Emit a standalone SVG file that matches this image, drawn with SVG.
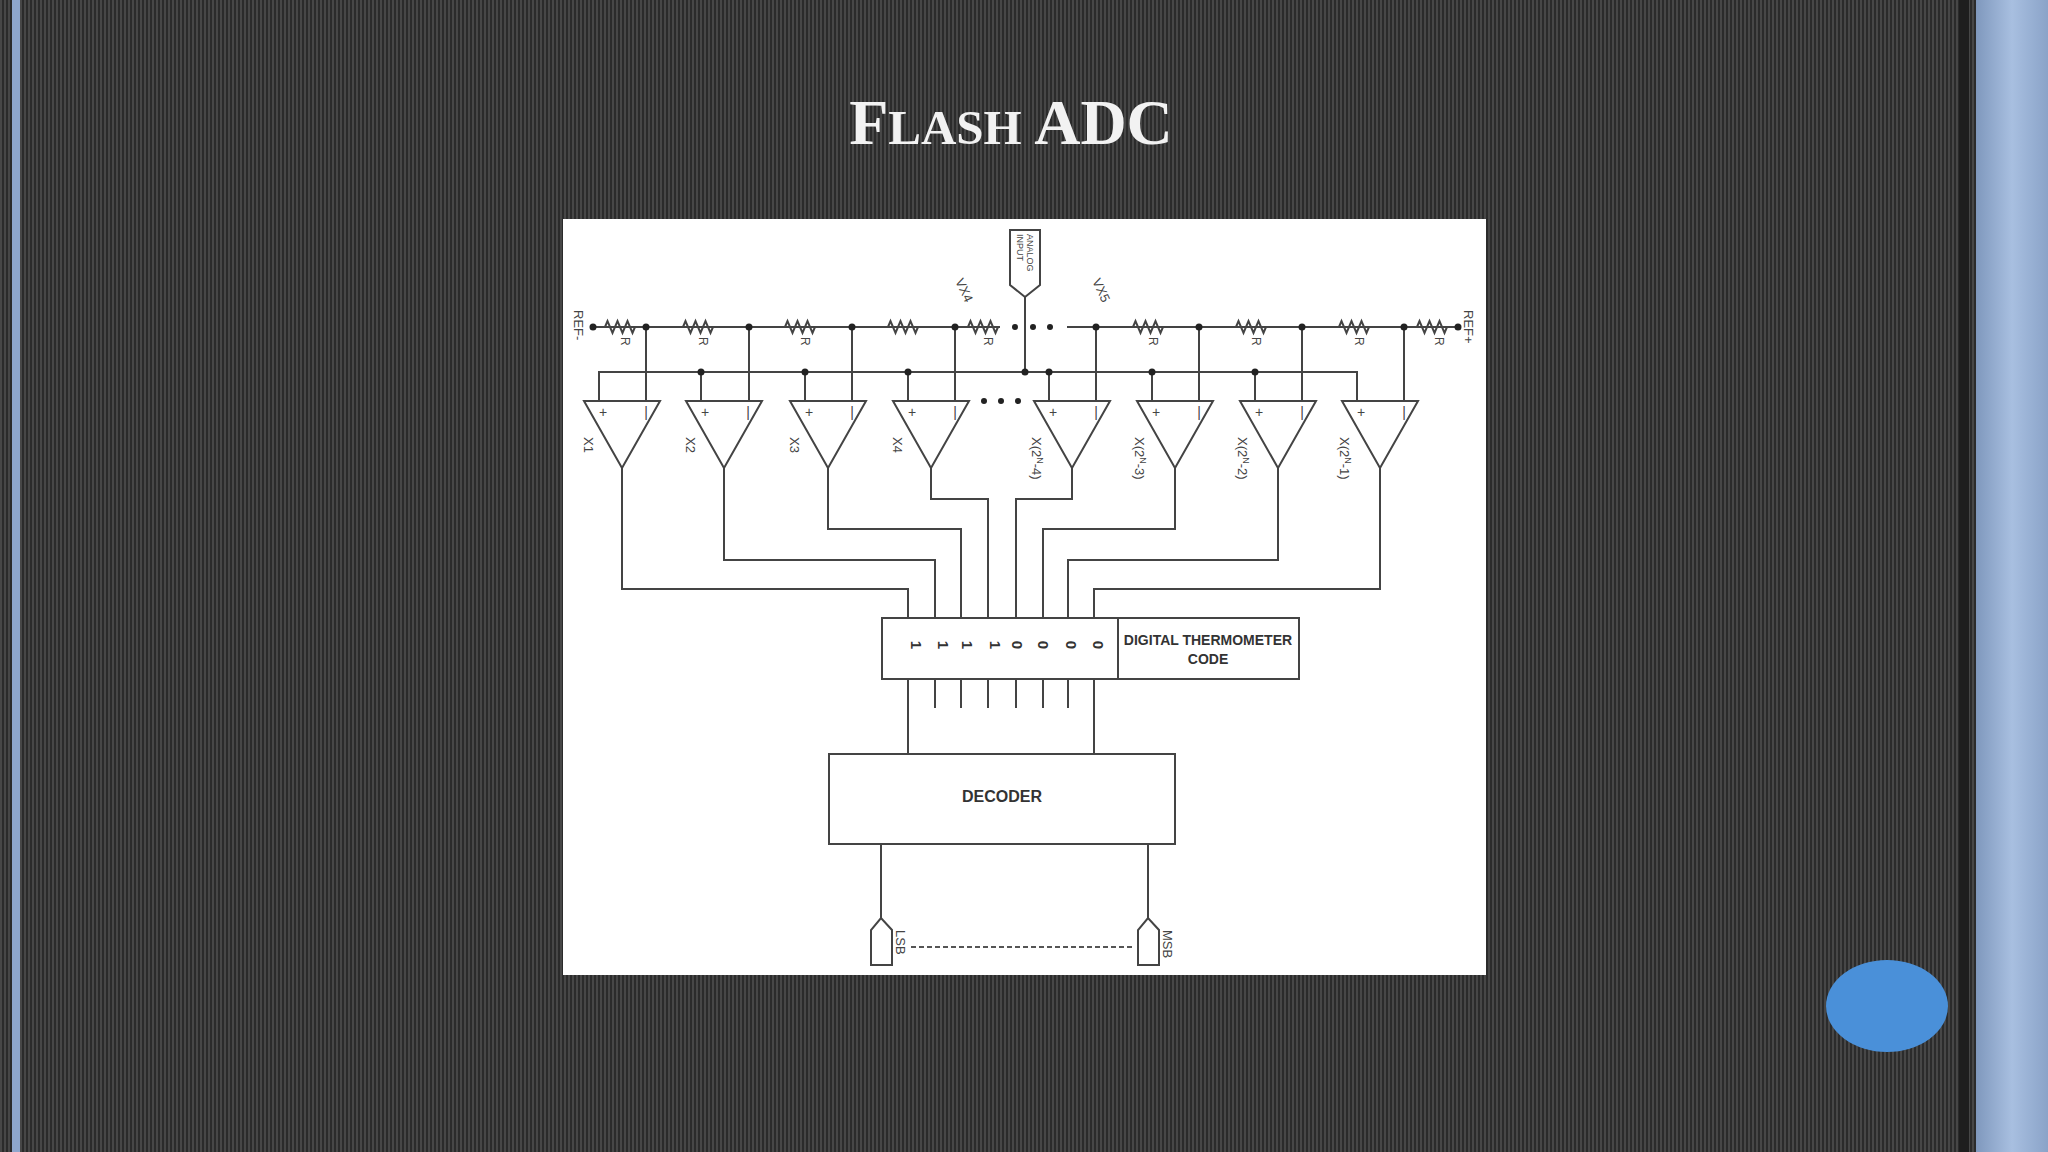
<svg xmlns="http://www.w3.org/2000/svg" width="2048" height="1152" viewBox="0 0 2048 1152">
<defs>
<pattern id="st" width="4" height="4" patternUnits="userSpaceOnUse"><rect width="4" height="4" fill="#2b2b2b"/><rect width="2" height="4" fill="#474747"/></pattern>
<linearGradient id="bl" x1="0" x2="1"><stop offset="0" stop-color="#7f98bd"/><stop offset="0.5" stop-color="#a8bfe0"/><stop offset="1" stop-color="#8aa3c8"/></linearGradient>
<path id="res" d="M-15,0 l2.5,-6 l5,12 l5,-12 l5,12 l5,-12 l5,12 l2.5,-6" fill="none"/>
<path id="cmp" d="M0,0 h76 L38,67 Z"/>
</defs>
<style>
.w{fill:none;stroke:#444;stroke-width:2}
.r{fill:none;stroke:#444;stroke-width:2}
.c{fill:#fff;stroke:#444;stroke-width:2}
.d{fill:#222}
.t{font-family:"Liberation Sans",Arial,sans-serif;fill:#444}
.b{font-family:"Liberation Sans",Arial,sans-serif;font-weight:bold;fill:#333}
</style>
<rect width="2048" height="1152" fill="url(#st)"/>
<rect x="12" y="0" width="8" height="1152" fill="#8ea6cc"/>
<rect x="1959" y="0" width="10" height="1152" fill="#1e1e1e"/>
<rect x="1976" y="0" width="72" height="1152" fill="url(#bl)"/>
<text x="1011" y="144" text-anchor="middle" font-family="Liberation Serif,serif" font-weight="bold" font-size="64" fill="#f2f2f2">F<tspan font-size="49">LASH</tspan> ADC</text>
<ellipse cx="1887" cy="1006" rx="61" ry="46" fill="#4a90d9"/>
<rect x="563" y="219" width="923" height="756" fill="#fff"/>

<g id="connectors">
<path class="w" d="M593,327 H1000 M1067,327 H1458"/>
<g class="r" stroke="#444" fill="#fff">
<use href="#res" x="620" y="327"/><use href="#res" x="698" y="327"/><use href="#res" x="800" y="327"/><use href="#res" x="903" y="327"/><use href="#res" x="983" y="327"/><use href="#res" x="1148" y="327"/><use href="#res" x="1251" y="327"/><use href="#res" x="1354" y="327"/><use href="#res" x="1432" y="327"/>
</g>
<path class="w" d="M599,401 V372 H1357 V401 M701,372 V401 M805,372 V401 M908,372 V401 M1049,372 V401 M1152,372 V401 M1255,372 V401 M1025,297 V372"/>
<path class="w" d="M646,327 V401 M749,327 V401 M852,327 V401 M955,327 V401 M1096,327 V401 M1199,327 V401 M1302,327 V401 M1404,327 V401"/>
<path class="w" d="M622,468 V589 H908 V618 M724,468 V560 H935 V618 M828,468 V529 H961 V618 M931,468 V499 H988 V618 M1072,468 V499 H1016 V618 M1175,468 V529 H1043 V618 M1278,468 V560 H1068 V618 M1380,468 V589 H1094 V618"/>
<path class="w" d="M908,679 V753 M1094,679 V753 M935,679 V708 M961,679 V708 M988,679 V708 M1016,679 V708 M1043,679 V708 M1068,679 V708"/>
<path class="w" d="M881,844 V918 M1148,844 V918"/>
<path d="M911,947 H1132" stroke="#555" stroke-width="2" stroke-dasharray="5,3" fill="none"/>
<g class="d">
<circle cx="593" cy="327" r="3.5"/><circle cx="646" cy="327" r="3.5"/><circle cx="749" cy="327" r="3.5"/><circle cx="852" cy="327" r="3.5"/><circle cx="955" cy="327" r="3.5"/><circle cx="1096" cy="327" r="3.5"/><circle cx="1199" cy="327" r="3.5"/><circle cx="1302" cy="327" r="3.5"/><circle cx="1404" cy="327" r="3.5"/><circle cx="1458" cy="327" r="3.5"/>
<circle cx="1015" cy="327" r="3"/><circle cx="1033" cy="327" r="3"/><circle cx="1050" cy="327" r="3"/>
<circle cx="701" cy="372" r="3.5"/><circle cx="805" cy="372" r="3.5"/><circle cx="908" cy="372" r="3.5"/><circle cx="1025" cy="372" r="3.5"/><circle cx="1049" cy="372" r="3.5"/><circle cx="1152" cy="372" r="3.5"/><circle cx="1255" cy="372" r="3.5"/>
<circle cx="984" cy="401" r="3"/><circle cx="1001" cy="401" r="3"/><circle cx="1018" cy="401" r="3"/>
</g>
</g>

<g id="labels" class="t" font-size="13">
<text transform="translate(574,310) rotate(90)">REF-</text>
<text transform="translate(1464,310) rotate(90)">REF+</text>
<text transform="translate(955,281) rotate(65)">VX4</text>
<text transform="translate(1092,281) rotate(65)">VX5</text>
<g font-size="12">
<text transform="translate(621,337) rotate(90)">R</text><text transform="translate(699,337) rotate(90)">R</text><text transform="translate(801,337) rotate(90)">R</text><text transform="translate(984,337) rotate(90)">R</text><text transform="translate(1149,337) rotate(90)">R</text><text transform="translate(1252,337) rotate(90)">R</text><text transform="translate(1355,337) rotate(90)">R</text><text transform="translate(1435,337) rotate(90)">R</text>
</g>
</g>

<g id="analog-input"><path class="c" d="M1010,230 H1040 V285 L1025,297 L1010,285 Z"/>
<text class="t" font-size="9" transform="translate(1027,234) rotate(90)">ANALOG</text><text class="t" font-size="9" transform="translate(1017,234) rotate(90)">INPUT</text></g>

<g id="comparators">
<g id="c1"><use href="#cmp" x="584" y="401" class="c"/><text class="t" font-size="14" x="603" y="417" text-anchor="middle">+</text><text class="t" font-size="14" x="646" y="417" text-anchor="middle">|</text><text class="t" font-size="13" transform="translate(584,437) rotate(90)">X1</text></g>
<g id="c2"><use href="#cmp" x="686" y="401" class="c"/><text class="t" font-size="14" x="705" y="417" text-anchor="middle">+</text><text class="t" font-size="14" x="748" y="417" text-anchor="middle">|</text><text class="t" font-size="13" transform="translate(686,437) rotate(90)">X2</text></g>
<g id="c3"><use href="#cmp" x="790" y="401" class="c"/><text class="t" font-size="14" x="809" y="417" text-anchor="middle">+</text><text class="t" font-size="14" x="852" y="417" text-anchor="middle">|</text><text class="t" font-size="13" transform="translate(790,437) rotate(90)">X3</text></g>
<g id="c4"><use href="#cmp" x="893" y="401" class="c"/><text class="t" font-size="14" x="912" y="417" text-anchor="middle">+</text><text class="t" font-size="14" x="955" y="417" text-anchor="middle">|</text><text class="t" font-size="13" transform="translate(893,437) rotate(90)">X4</text></g>
<g id="c5"><use href="#cmp" x="1034" y="401" class="c"/><text class="t" font-size="14" x="1053" y="417" text-anchor="middle">+</text><text class="t" font-size="14" x="1096" y="417" text-anchor="middle">|</text><text class="t" font-size="13" transform="translate(1032,437) rotate(90)">X(2<tspan font-size="9" dy="-5">N</tspan><tspan dy="5">-4)</tspan></text></g>
<g id="c6"><use href="#cmp" x="1137" y="401" class="c"/><text class="t" font-size="14" x="1156" y="417" text-anchor="middle">+</text><text class="t" font-size="14" x="1199" y="417" text-anchor="middle">|</text><text class="t" font-size="13" transform="translate(1135,437) rotate(90)">X(2<tspan font-size="9" dy="-5">N</tspan><tspan dy="5">-3)</tspan></text></g>
<g id="c7"><use href="#cmp" x="1240" y="401" class="c"/><text class="t" font-size="14" x="1259" y="417" text-anchor="middle">+</text><text class="t" font-size="14" x="1302" y="417" text-anchor="middle">|</text><text class="t" font-size="13" transform="translate(1238,437) rotate(90)">X(2<tspan font-size="9" dy="-5">N</tspan><tspan dy="5">-2)</tspan></text></g>
<g id="c8"><use href="#cmp" x="1342" y="401" class="c"/><text class="t" font-size="14" x="1361" y="417" text-anchor="middle">+</text><text class="t" font-size="14" x="1404" y="417" text-anchor="middle">|</text><text class="t" font-size="13" transform="translate(1340,437) rotate(90)">X(2<tspan font-size="9" dy="-5">N</tspan><tspan dy="5">-1)</tspan></text></g>
</g>

<g id="thermometer">
<rect class="c" x="882" y="618" width="236" height="61"/>
<rect class="c" x="1118" y="618" width="181" height="61"/>
<g class="b" font-size="15" font-weight="normal">
<text transform="translate(911,645) rotate(90)" text-anchor="middle">1</text><text transform="translate(938,645) rotate(90)" text-anchor="middle">1</text><text transform="translate(962,645) rotate(90)" text-anchor="middle">1</text><text transform="translate(990,645) rotate(90)" text-anchor="middle">1</text>
<text transform="translate(1012,645) rotate(90)" text-anchor="middle">0</text><text transform="translate(1038,645) rotate(90)" text-anchor="middle">0</text><text transform="translate(1066,645) rotate(90)" text-anchor="middle">0</text><text transform="translate(1093,645) rotate(90)" text-anchor="middle">0</text>
</g>
<text class="b" font-size="14" x="1208" y="645" text-anchor="middle">DIGITAL THERMOMETER</text>
<text class="b" font-size="14" x="1208" y="664" text-anchor="middle">CODE</text>
</g>

<g id="decoder"><rect class="c" x="829" y="754" width="346" height="90"/><text class="b" font-size="16" x="1002" y="802" text-anchor="middle">DECODER</text></g>

<g id="lsb"><path class="c" d="M871,965 V930 L881,918 L892,930 V965 Z"/><text class="t" font-size="13" transform="translate(896,930) rotate(90)">LSB</text></g>
<g id="msb"><path class="c" d="M1138,965 V930 L1148,918 L1159,930 V965 Z"/><text class="t" font-size="13" transform="translate(1163,930) rotate(90)">MSB</text></g>
</svg>
